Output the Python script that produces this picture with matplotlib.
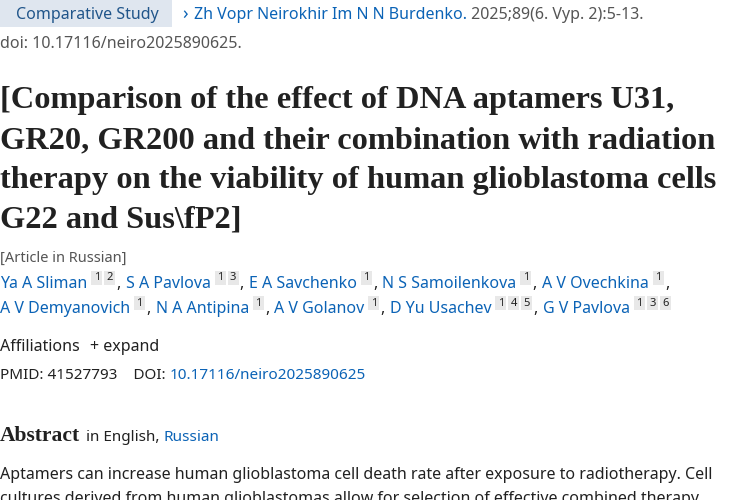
import matplotlib
matplotlib.use("Agg")
import matplotlib.pyplot as plt
from matplotlib.patches import Rectangle

BLUE = "#0b63b6"
GREY = "#555555"
DARK = "#212121"

pub_type = "Comparative Study"
journal = "Zh Vopr Neirokhir Im N N Burdenko."
citation = " 2025;89(6. Vyp. 2):5-13."
doi_line = "doi: 10.17116/neiro2025890625."
title_lines = ["[Comparison of the effect of DNA aptamers U31,",
               "GR20, GR200 and their combination with radiation",
               "therapy on the viability of human glioblastoma cells",
               "G22 and Sus\\fP2]"]
authors_row1 = [("Ya A Sliman", "1 2"), ("S A Pavlova", "1 3"), ("E A Savchenko", "1"),
                ("N S Samoilenkova", "1"), ("A V Ovechkina", "1")]
authors_row2 = [("A V Demyanovich", "1"), ("N A Antipina", "1"), ("A V Golanov", "1"),
                ("D Yu Usachev", "1 4 5"), ("G V Pavlova", "1 3 6")]
pmid = "41527793"
doi = "10.17116/neiro2025890625"
abstract_text = ["Aptamers can increase human glioblastoma cell death rate after exposure to radiotherapy. Cell",
                 "cultures derived from human glioblastomas allow for selection of effective combined therapy"]

fig = plt.figure(figsize=(7.5, 5), dpi=100)
ax = fig.add_axes([0, 0, 1, 1])
ax.set_xlim(0, 750)
ax.set_ylim(500, 0)
ax.axis("off")
fig.canvas.draw()
r = fig.canvas.get_renderer()


def put(x, y, s, size=11.5, color=DARK, family="Noto Sans", **kw):
    t = ax.text(x, y, s, fontsize=size, color=color, va="baseline",
                family=family, **kw)
    bb = t.get_window_extent(r)
    return x + bb.width


ax.add_patch(Rectangle((0, 0), 172, 27, color="#dfe6ef", lw=0))
put(16, 19, pub_type, 11.5, "#20558a")
x = put(182, 19, "›", 13, BLUE)
x = put(x + 6, 19, journal, 11.5, BLUE)
put(x, 19, citation, 11.5, GREY)
put(0, 48, doi_line, 11.5, GREY)

for i, line in enumerate(title_lines):
    ax.text(0, 108 + i * 40, line, fontsize=23.3, color=DARK, fontweight="bold",
            family="Liberation Serif", va="baseline")

put(0, 262, "[Article in Russian]", 10.5, GREY)


def author_row(y, items, trailing):
    x = 0
    for k, (name, sups) in enumerate(items):
        x = put(x, y, name, 11.5, BLUE) + 4
        for s in sups.split():
            ax.add_patch(Rectangle((x, y - 17), 11, 14, color="#e8e8e8", lw=0))
            ax.text(x + 5.5, y - 10, s, fontsize=8, color=DARK, ha="center",
                    va="center", family="Noto Sans")
            x += 13
        if k < len(items) - 1 or trailing:
            x = put(x, y, ", ", 11.5, DARK)


author_row(288, authors_row1, True)
author_row(313, authors_row2, False)

x = put(0, 351, "Affiliations", 11.5, DARK)
put(x + 10, 351, "+ expand", 11.5, DARK)
x = put(0, 379, "PMID: " + pmid + "    DOI: ", 11, DARK)
put(x, 379, doi, 11, BLUE)

x = put(0, 441, "Abstract", 15.5, DARK, family="Liberation Serif", fontweight="bold")
x = put(x + 6, 441, "in English, ", 11, DARK)
put(x, 441, "Russian", 11, BLUE)

for i, line in enumerate(abstract_text):
    put(0, 479 + i * 24, line, 11.5, DARK)

fig.savefig("out.png", dpi=100)
